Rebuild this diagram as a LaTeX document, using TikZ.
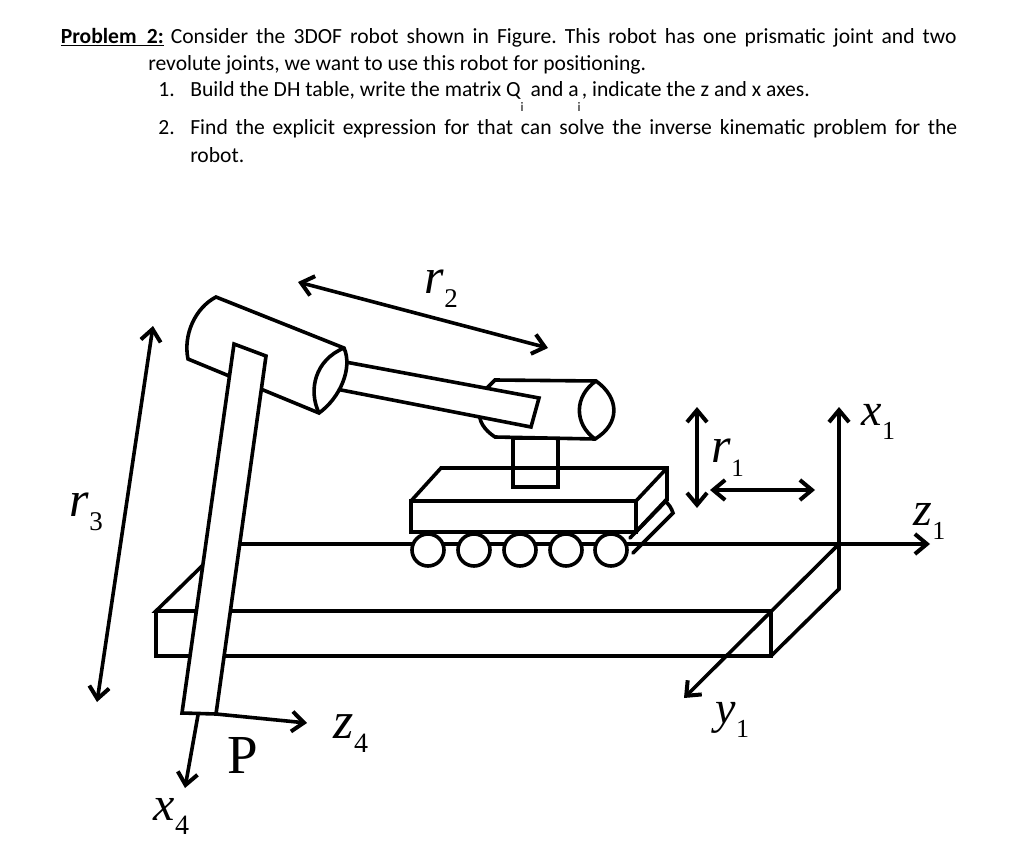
\documentclass[tikz,border=0pt]{standalone}
\usepackage{fontspec}
\setmainfont{Carlito}
\frenchspacing
\newfontfamily\labfont{Liberation Serif}
\usetikzlibrary{arrows.meta}
\newcommand{\axlab}[4]{{\labfont\fontsize{#1}{#1}\selectfont\itshape #2\raisebox{-14pt}{\fontsize{#3}{#3}\selectfont\upshape #4}}}
\tikzset{
	txt/.style={anchor=base west,inner sep=0pt,font=\fontsize{21.6}{21.6}\selectfont},
	idx/.style={anchor=base,inner sep=0pt,font=\fontsize{13}{13}\selectfont},
	lab/.style={anchor=base west,inner sep=0pt},
	part/.style={draw,fill=white,line join=miter},
	>={Straight Barb[length=12pt,width=20pt,line width=4pt]}
}

\begin{document}
\begin{tikzpicture}[x=1pt,y=-1pt,line width=3.6pt,line cap=round]
	\useasboundingbox (0,0) rectangle (1021,843);
	\node[txt] (line1) at (59,44) {\underline{\makebox[103pt][s]{\textbf{Problem 2:}}}\hspace{7pt}\makebox[786pt][s]{Consider the 3DOF robot shown in Figure. This robot has one prismatic joint and two}};
	\node[txt] (line2) at (146.5,71) {revolute joints, we want to use this robot for positioning.};
	\node[txt] (num1) at (156.5,96) {1.};
	\node[txt] (line3) at (188.5,96) {Build the DH table, write the matrix Q\hspace{5pt} and a\hspace{3pt}, indicate the z and x axes.};
	\node[idx] (subq) at (522,112) {i};
	\node[idx] (suba) at (579,112) {i};
	\node[txt] (num2) at (156.5,135) {2.};
	\node[txt] (line4) at (188.5,135) {\makebox[767pt][s]{Find the explicit expression for that can solve the inverse kinematic problem for the}};
	\node[txt] (line5) at (188.5,162) {robot.};

	% table
	\coordinate (orig) at (839,544);
	\coordinate (xone) at (839,407);
	\coordinate (zone) at (930,544);
	\coordinate (yone) at (684,698);
	\draw (238,544) -- (orig);
	\draw[->] (orig) -- (zone);
	\draw[->] (839,589) -- (xone);
	\draw[->] (orig) -- (yone);
	\draw (203,565) -- (156,611) -- (771,611) -- (771,656) -- (156,656) -- (156,611);
	\draw (771,656) -- (839,589);

	% cart
	\draw (633,553) -- (673,513) to[bend right=15] (665,501) -- (630,538);
	\foreach \wx in {428,474,520,566,611}
		\draw[fill=white] (\wx,550) circle (16);
	\draw (411,501) -- (441,468) -- (667,468) -- (667,500) -- (636,532);
	\draw (636,501) -- (667,468);
	\draw (411,501) rectangle (636,532);
	\draw (513,438) rectangle (558,487);

	% joint on the cart
	\draw[part] (495,380) -- (596,381) .. controls (620,398) and (620,424) .. (595,439) -- (495,437) .. controls (484,430) and (478,420) .. (480,412) -- (487,388) -- cycle;
	\draw (596,381) .. controls (574,396) and (574,424) .. (595,439);
	\draw[part] (340,361) -- (539,398) -- (531,427) -- (336,389) -- cycle;

	% upper cylinder
	\draw[part] (216,297) -- (344,348) .. controls (353,368) and (340,398) .. (319,413) -- (188,359) .. controls (183,335) and (195,308) .. cycle;
	\draw (344,348) .. controls (315,360) and (308,390) .. (319,413);
	\draw[part] (234,344) -- (266,356) -- (216,714) -- (182,713) -- cycle;

	% tool frame
	\coordinate (zfour) at (307,723);
	\coordinate (xfour) at (185,788);
	\draw[->] (216,714) -- (zfour);
	\draw[->] (198,715) -- (xfour);

	% dimensions
	\coordinate (rtwoa) at (298,282);
	\coordinate (rtwob) at (548,348);
	\coordinate (rthreea) at (153,326);
	\coordinate (rthreeb) at (97,702);
	\coordinate (ronea) at (697,407);
	\coordinate (roneb) at (697,508);
	\coordinate (rza) at (710,490);
	\coordinate (rzb) at (815,490);
	\draw[<->] (rtwoa) -- (rtwob);
	\draw[<->] (rthreea) -- (rthreeb);
	\draw[<->] (ronea) -- (roneb);
	\draw[<->] (rza) -- (rzb);

	\node[lab] (ltwo) at (423,293) {\axlab{50}{r}{27}{2}};
	\node[lab] (lthree) at (68,516) {\axlab{50}{r}{27}{3}};
	\node[lab] (lone) at (710,462) {\axlab{50}{r}{25}{1}};
	\node[lab] (lxone) at (860,425) {\axlab{46}{x}{26}{1}};
	\node[lab] (lzone) at (912,525) {\axlab{48}{z}{26}{1}};
	\node[lab] (lyone) at (714,723) {\axlab{46}{y}{26}{1}};
	\node[lab] (lzfour) at (332,738) {\axlab{52}{z}{28}{4}};
	\node[lab] (lxfour) at (152,820) {\axlab{48}{x}{28}{4}};
	\node[lab,font=\labfont\fontsize{55}{55}\selectfont] (ptool) at (226,773) {P};
\end{tikzpicture}
\end{document}
